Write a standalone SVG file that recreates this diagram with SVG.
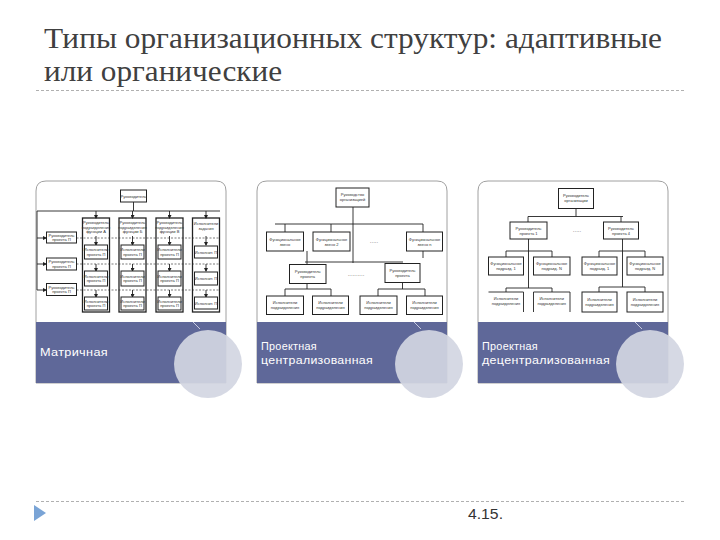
<svg xmlns="http://www.w3.org/2000/svg" width="720" height="540" viewBox="0 0 720 540">
<defs>
<style>
.title{font-family:"Liberation Serif",serif;font-size:29px;fill:#404040}
.band{fill:#5f6899}
.bt{font-family:"Liberation Sans",sans-serif;font-size:11.5px;fill:#fff;letter-spacing:0.3px}
.card{fill:#fff;stroke:#a0a0a0;stroke-width:1}
.circ{fill:#d3d6e2;fill-opacity:0.92}
.b{fill:#fff;stroke:#222;stroke-width:1}
.bo{fill:none;stroke:#222;stroke-width:1.3}
.l{stroke:#222;stroke-width:0.9;fill:none}
.d{stroke:#444;stroke-width:0.7;stroke-dasharray:2 1.5;fill:none}
.t{font-family:"Liberation Sans",sans-serif;font-size:4px;fill:#333;text-anchor:middle}
.dots{font-family:"Liberation Sans",sans-serif;font-size:6px;fill:#555;text-anchor:middle}
.sep{stroke:#b0b0b0;stroke-width:1;stroke-dasharray:3 2}
</style>
<marker id="ar" markerWidth="4" markerHeight="4" refX="3" refY="2" orient="auto" markerUnits="userSpaceOnUse"><path d="M0,0 L4,2 L0,4 Z" fill="#222"/></marker>
</defs>
<rect width="720" height="540" fill="#fff"/>
<g id="title">
<text class="title" x="44" y="48" textLength="618" lengthAdjust="spacingAndGlyphs">Типы организационных структур: адаптивные</text>
<text class="title" x="44" y="81" textLength="238" lengthAdjust="spacingAndGlyphs">или органические</text>
</g>
<line class="sep" x1="36" y1="90.5" x2="686" y2="90.5"/>
<line class="sep" x1="36" y1="501.5" x2="686" y2="501.5"/>
<path d="M34,505 L46,513 L34,521 Z" fill="#7aa4d6"/>
<text x="468" y="519" font-family="Liberation Sans,sans-serif" font-size="14" fill="#333" textLength="35" lengthAdjust="spacingAndGlyphs">4.15.</text>

<!-- Panel 1: matrix -->
<g id="panel-matrix">
<path class="card" d="M36,383 L36,191 Q36,181 46,181 L216,181 Q226,181 226,191 L226,383 Z"/>
<g id="m-top"><rect class="b" x="120.5" y="190" width="26" height="12"/><text class="t" x="133.5" y="197.5">Руководитель</text></g>
<g id="m-conn">
<line class="l" x1="133.5" y1="202" x2="133.5" y2="211"/>
<line class="l" x1="37" y1="211" x2="220" y2="211" stroke-width="1.3"/>
<line class="l" x1="37" y1="211" x2="37" y2="290"/>
<line class="l" x1="37" y1="238" x2="46" y2="238" marker-end="url(#ar)"/>
<line class="l" x1="37" y1="264" x2="46" y2="264" marker-end="url(#ar)"/>
<line class="l" x1="37" y1="290" x2="46" y2="290" marker-end="url(#ar)"/>
<line class="l" x1="96" y1="211" x2="96" y2="218" marker-end="url(#ar)"/>
<line class="l" x1="132.5" y1="211" x2="132.5" y2="218" marker-end="url(#ar)"/>
<line class="l" x1="169.5" y1="211" x2="169.5" y2="218" marker-end="url(#ar)"/>
<line class="l" x1="206" y1="211" x2="206" y2="218" marker-end="url(#ar)"/>
<line class="d" x1="76.5" y1="238" x2="220" y2="238"/>
<line class="d" x1="76.5" y1="264" x2="220" y2="264"/>
<line class="d" x1="76.5" y1="290" x2="220" y2="290"/>
<line class="l" x1="96" y1="236" x2="96" y2="245" marker-end="url(#ar)"/>
<line class="l" x1="132.5" y1="236" x2="132.5" y2="245" marker-end="url(#ar)"/>
<line class="l" x1="169.5" y1="236" x2="169.5" y2="245" marker-end="url(#ar)"/>
<line class="l" x1="206" y1="236" x2="206" y2="245" marker-end="url(#ar)"/>
<line class="l" x1="96" y1="264" x2="96" y2="271" marker-end="url(#ar)"/>
<line class="l" x1="132.5" y1="264" x2="132.5" y2="271" marker-end="url(#ar)"/>
<line class="l" x1="169.5" y1="264" x2="169.5" y2="271" marker-end="url(#ar)"/>
<line class="l" x1="206" y1="264" x2="206" y2="271" marker-end="url(#ar)"/>
<line class="l" x1="96" y1="290" x2="96" y2="297" marker-end="url(#ar)"/>
<line class="l" x1="132.5" y1="290" x2="132.5" y2="297" marker-end="url(#ar)"/>
<line class="l" x1="169.5" y1="290" x2="169.5" y2="297" marker-end="url(#ar)"/>
<line class="l" x1="206" y1="290" x2="206" y2="297" marker-end="url(#ar)"/>
</g>
<g id="m-row1"><rect class="b" x="46.5" y="232" width="30" height="11"/><text class="t" x="61.5" y="236.5">Руководитель</text><text class="t" x="61.5" y="241">проекта П</text></g>
<g id="m-row2"><rect class="b" x="46.5" y="258" width="30" height="12"/><text class="t" x="61.5" y="263">Руководитель</text><text class="t" x="61.5" y="267.5">проекта П</text></g>
<g id="m-row3"><rect class="b" x="46.5" y="283.5" width="30" height="12"/><text class="t" x="61.5" y="288.5">Руководитель</text><text class="t" x="61.5" y="293">проекта П</text></g>
<g id="m-col1"><rect class="bo" x="82.5" y="218" width="27" height="94"/><text class="t" x="96" y="224">Руководитель</text><text class="t" x="96" y="228.5">подразделения</text><text class="t" x="96" y="233">функции А</text>
<rect class="b" x="84.5" y="245" width="23" height="14"/><text class="t" x="96" y="251">Исполнители</text><text class="t" x="96" y="255.5">проекта П</text>
<rect class="b" x="84.5" y="271" width="23" height="15"/><text class="t" x="96" y="277.5">Исполнители</text><text class="t" x="96" y="282">проекта П</text>
<rect class="b" x="84.5" y="297" width="23" height="13"/><text class="t" x="96" y="302.5">Исполнители</text><text class="t" x="96" y="307">проекта П</text></g>
<g id="m-col2"><rect class="bo" x="119" y="218" width="27" height="94"/><text class="t" x="132.5" y="224">Руководитель</text><text class="t" x="132.5" y="228.5">подразделения</text><text class="t" x="132.5" y="233">функции Б</text>
<rect class="b" x="121" y="245" width="23" height="14"/><text class="t" x="132.5" y="251">Исполнители</text><text class="t" x="132.5" y="255.5">проекта П</text>
<rect class="b" x="121" y="271" width="23" height="15"/><text class="t" x="132.5" y="277.5">Исполнители</text><text class="t" x="132.5" y="282">проекта П</text>
<rect class="b" x="121" y="297" width="23" height="13"/><text class="t" x="132.5" y="302.5">Исполнители</text><text class="t" x="132.5" y="307">проекта П</text></g>
<g id="m-col3"><rect class="bo" x="156" y="218" width="27" height="94"/><text class="t" x="169.5" y="224">Руководитель</text><text class="t" x="169.5" y="228.5">подразделения</text><text class="t" x="169.5" y="233">функции В</text>
<rect class="b" x="158" y="245" width="23" height="14"/><text class="t" x="169.5" y="251">Исполнители</text><text class="t" x="169.5" y="255.5">проекта П</text>
<rect class="b" x="158" y="271" width="23" height="15"/><text class="t" x="169.5" y="277.5">Исполнители</text><text class="t" x="169.5" y="282">проекта П</text>
<rect class="b" x="158" y="297" width="23" height="13"/><text class="t" x="169.5" y="302.5">Исполнители</text><text class="t" x="169.5" y="307">проекта П</text></g>
<g id="m-col4"><rect class="bo" x="192.5" y="218" width="27" height="94"/><text class="t" x="206" y="225">Исполнители</text><text class="t" x="206" y="229.5">задания</text>
<rect class="b" x="194.5" y="246" width="23" height="12"/><text class="t" x="206" y="253.5">Исполнит. П</text>
<rect class="b" x="194.5" y="272" width="23" height="13"/><text class="t" x="206" y="280">Исполнит. П</text>
<rect class="b" x="194.5" y="297" width="23" height="12"/><text class="t" x="206" y="304.5">Исполнит. П</text></g>
<rect class="band" x="36" y="322" width="190" height="61"/>
<line x1="193" y1="322" x2="200" y2="329" stroke="#c8cbe0" stroke-width="1"/>
<text class="bt" x="40" y="356" textLength="68" lengthAdjust="spacingAndGlyphs">Матричная</text>
<circle class="circ" cx="208" cy="364" r="34"/>
</g>

<!-- Panel 2: centralized -->
<g id="panel-central">
<path class="card" d="M257,383 L257,191 Q257,181 267,181 L437,181 Q447,181 447,191 L447,383 Z"/>
<g id="c-conn">
<line class="l" x1="353" y1="207" x2="353" y2="263"/>
<line class="l" x1="275" y1="224" x2="423" y2="224"/>
<line class="l" x1="285" y1="224" x2="285" y2="232"/>
<line class="l" x1="331" y1="224" x2="331" y2="232"/>
<line class="l" x1="423" y1="224" x2="423" y2="232"/>
<line class="l" x1="307" y1="251" x2="307" y2="264"/>
<line class="l" x1="423" y1="251" x2="423" y2="258"/>
<line class="l" x1="305" y1="262" x2="403" y2="262" stroke="#999"/>
<line class="l" x1="307" y1="283" x2="307" y2="289"/>
<line class="l" x1="285" y1="289" x2="331" y2="289"/>
<line class="l" x1="285" y1="289" x2="285" y2="296"/>
<line class="l" x1="331" y1="289" x2="331" y2="296"/>
<line class="l" x1="402.5" y1="282" x2="402.5" y2="289"/>
<line class="l" x1="378" y1="289" x2="425" y2="289"/>
<line class="l" x1="378" y1="289" x2="378" y2="296"/>
<line class="l" x1="425" y1="289" x2="425" y2="296"/>
</g>
<g id="c-top"><rect class="b" x="336" y="188" width="33" height="19"/><text class="t" x="352.5" y="196">Руководство</text><text class="t" x="352.5" y="201">организацией</text></g>
<g id="c-f1"><rect class="b" x="266.5" y="232" width="37" height="19"/><text class="t" x="285" y="240.5">Функциональное</text><text class="t" x="285" y="245.5">звено</text></g>
<g id="c-f2"><rect class="b" x="313" y="232" width="37" height="19"/><text class="t" x="331.5" y="240.5">Функциональное</text><text class="t" x="331.5" y="245.5">звено 2</text></g>
<text class="dots" x="374" y="243">.....</text>
<g id="c-fn"><rect class="b" x="406.5" y="232" width="36" height="19" stroke="#888"/><text class="t" x="424.5" y="240.5">Функциональное</text><text class="t" x="424.5" y="245.5">звено n</text></g>
<g id="c-p1"><rect class="b" x="289.5" y="264.5" width="36.5" height="19"/><text class="t" x="307.7" y="272.5">Руководитель</text><text class="t" x="307.7" y="277.5">проекта</text></g>
<text class="dots" x="356" y="276">..........</text>
<g id="c-p2"><rect class="b" x="385" y="263.5" width="35" height="19"/><text class="t" x="402.5" y="271.5">Руководитель</text><text class="t" x="402.5" y="276.5">проекта</text></g>
<g id="c-e1"><rect class="b" x="266.5" y="296" width="37" height="18.5"/><text class="t" x="285" y="304">Исполнители</text><text class="t" x="285" y="309">подразделения</text></g>
<g id="c-e2"><rect class="b" x="312.5" y="296" width="36" height="18.5"/><text class="t" x="330.5" y="304">Исполнители</text><text class="t" x="330.5" y="309">подразделения</text></g>
<g id="c-e3"><rect class="b" x="360" y="296" width="37" height="18.5"/><text class="t" x="378.5" y="304">Исполнители</text><text class="t" x="378.5" y="309">подразделения</text></g>
<g id="c-e4"><rect class="b" x="406.5" y="296" width="36" height="18.5"/><text class="t" x="424.5" y="304">Исполнители</text><text class="t" x="424.5" y="309">подразделения</text></g>
<rect class="band" x="257" y="322" width="190" height="61"/>
<line x1="414" y1="322" x2="421" y2="329" stroke="#c8cbe0" stroke-width="1"/>
<text class="bt" x="261" y="350" textLength="56" lengthAdjust="spacingAndGlyphs">Проектная</text>
<text class="bt" x="261" y="364" textLength="112" lengthAdjust="spacingAndGlyphs">централизованная</text>
<circle class="circ" cx="429" cy="364" r="34"/>
</g>

<!-- Panel 3: decentralized -->
<g id="panel-decentral">
<path class="card" d="M478,383 L478,191 Q478,181 488,181 L658,181 Q668,181 668,191 L668,383 Z"/>
<g id="d-conn">
<line class="l" x1="576" y1="208" x2="576" y2="216.5"/>
<line class="l" x1="528" y1="216.5" x2="623" y2="216.5"/>
<line class="l" x1="528" y1="216.5" x2="528" y2="222"/>
<line class="l" x1="621" y1="216.5" x2="621" y2="222"/>
<line class="l" x1="528.5" y1="239" x2="528.5" y2="288"/>
<line class="l" x1="506" y1="251" x2="552" y2="251"/>
<line class="l" x1="506" y1="251" x2="506" y2="257"/>
<line class="l" x1="552" y1="251" x2="552" y2="257"/>
<line class="l" x1="622.5" y1="239" x2="622.5" y2="287"/>
<line class="l" x1="599" y1="251" x2="645" y2="251"/>
<line class="l" x1="599" y1="251" x2="599" y2="257"/>
<line class="l" x1="645" y1="251" x2="645" y2="257"/>
<line class="l" x1="506" y1="288" x2="552" y2="288" stroke="#999"/>
<line class="l" x1="506" y1="288" x2="506" y2="292" stroke="#999"/>
<line class="l" x1="552" y1="288" x2="552" y2="292" stroke="#999"/>
<line class="l" x1="599" y1="287" x2="645" y2="287"/>
<line class="l" x1="599" y1="287" x2="599" y2="292"/>
<line class="l" x1="645" y1="287" x2="645" y2="292"/>
</g>
<g id="d-top"><rect class="b" x="558.5" y="188.5" width="35" height="20"/><text class="t" x="576" y="197">Руководитель</text><text class="t" x="576" y="202">организации</text></g>
<g id="d-p1"><rect class="b" x="510" y="222" width="37" height="17"/><text class="t" x="528.5" y="229.5">Руководитель</text><text class="t" x="528.5" y="234.5">проекта 1</text></g>
<text class="dots" x="577" y="232">.....</text>
<g id="d-p2"><rect class="b" x="603.5" y="222" width="35" height="17"/><text class="t" x="621" y="229.5">Руководитель</text><text class="t" x="621" y="234.5">проекта 4</text></g>
<g id="d-f1"><rect class="b" x="488.5" y="257" width="35" height="18"/><text class="t" x="506" y="265">Функциональное</text><text class="t" x="506" y="270">подразд. 1</text></g>
<g id="d-f2"><rect class="b" x="533.5" y="257" width="36.5" height="18"/><text class="t" x="551.7" y="265">Функциональное</text><text class="t" x="551.7" y="270">подразд. N</text></g>
<g id="d-f3"><rect class="b" x="582" y="257" width="35" height="18"/><text class="t" x="599.5" y="265">Функциональное</text><text class="t" x="599.5" y="270">подразд. 1</text></g>
<g id="d-f4"><rect class="b" x="627" y="257" width="36" height="18"/><text class="t" x="645" y="265">Функциональное</text><text class="t" x="645" y="270">подразд. N</text></g>
<g id="d-e1"><path d="M488.5,292 L523.5,292 L523.5,312" class="l" stroke="#888"/><text class="t" x="506" y="300">Исполнители</text><text class="t" x="506" y="305">подразделения</text></g>
<g id="d-e2"><path d="M533.5,312 L533.5,292 L570,292 L570,312" class="l" stroke="#888"/><text class="t" x="551.7" y="300">Исполнители</text><text class="t" x="551.7" y="305">подразделения</text></g>
<g id="d-e3"><rect class="b" x="582" y="292" width="35" height="20"/><text class="t" x="599.5" y="300.5">Исполнители</text><text class="t" x="599.5" y="305.5">подразделения</text></g>
<g id="d-e4"><rect class="b" x="627" y="292" width="36" height="20"/><text class="t" x="645" y="300.5">Исполнители</text><text class="t" x="645" y="305.5">подразделения</text></g>
<rect class="band" x="478" y="322" width="190" height="61"/>
<line x1="635" y1="322" x2="642" y2="329" stroke="#c8cbe0" stroke-width="1"/>
<text class="bt" x="482" y="350" textLength="56" lengthAdjust="spacingAndGlyphs">Проектная</text>
<text class="bt" x="482" y="364" textLength="128" lengthAdjust="spacingAndGlyphs">децентрализованная</text>
<circle class="circ" cx="650" cy="364" r="34"/>
</g>
</svg>
